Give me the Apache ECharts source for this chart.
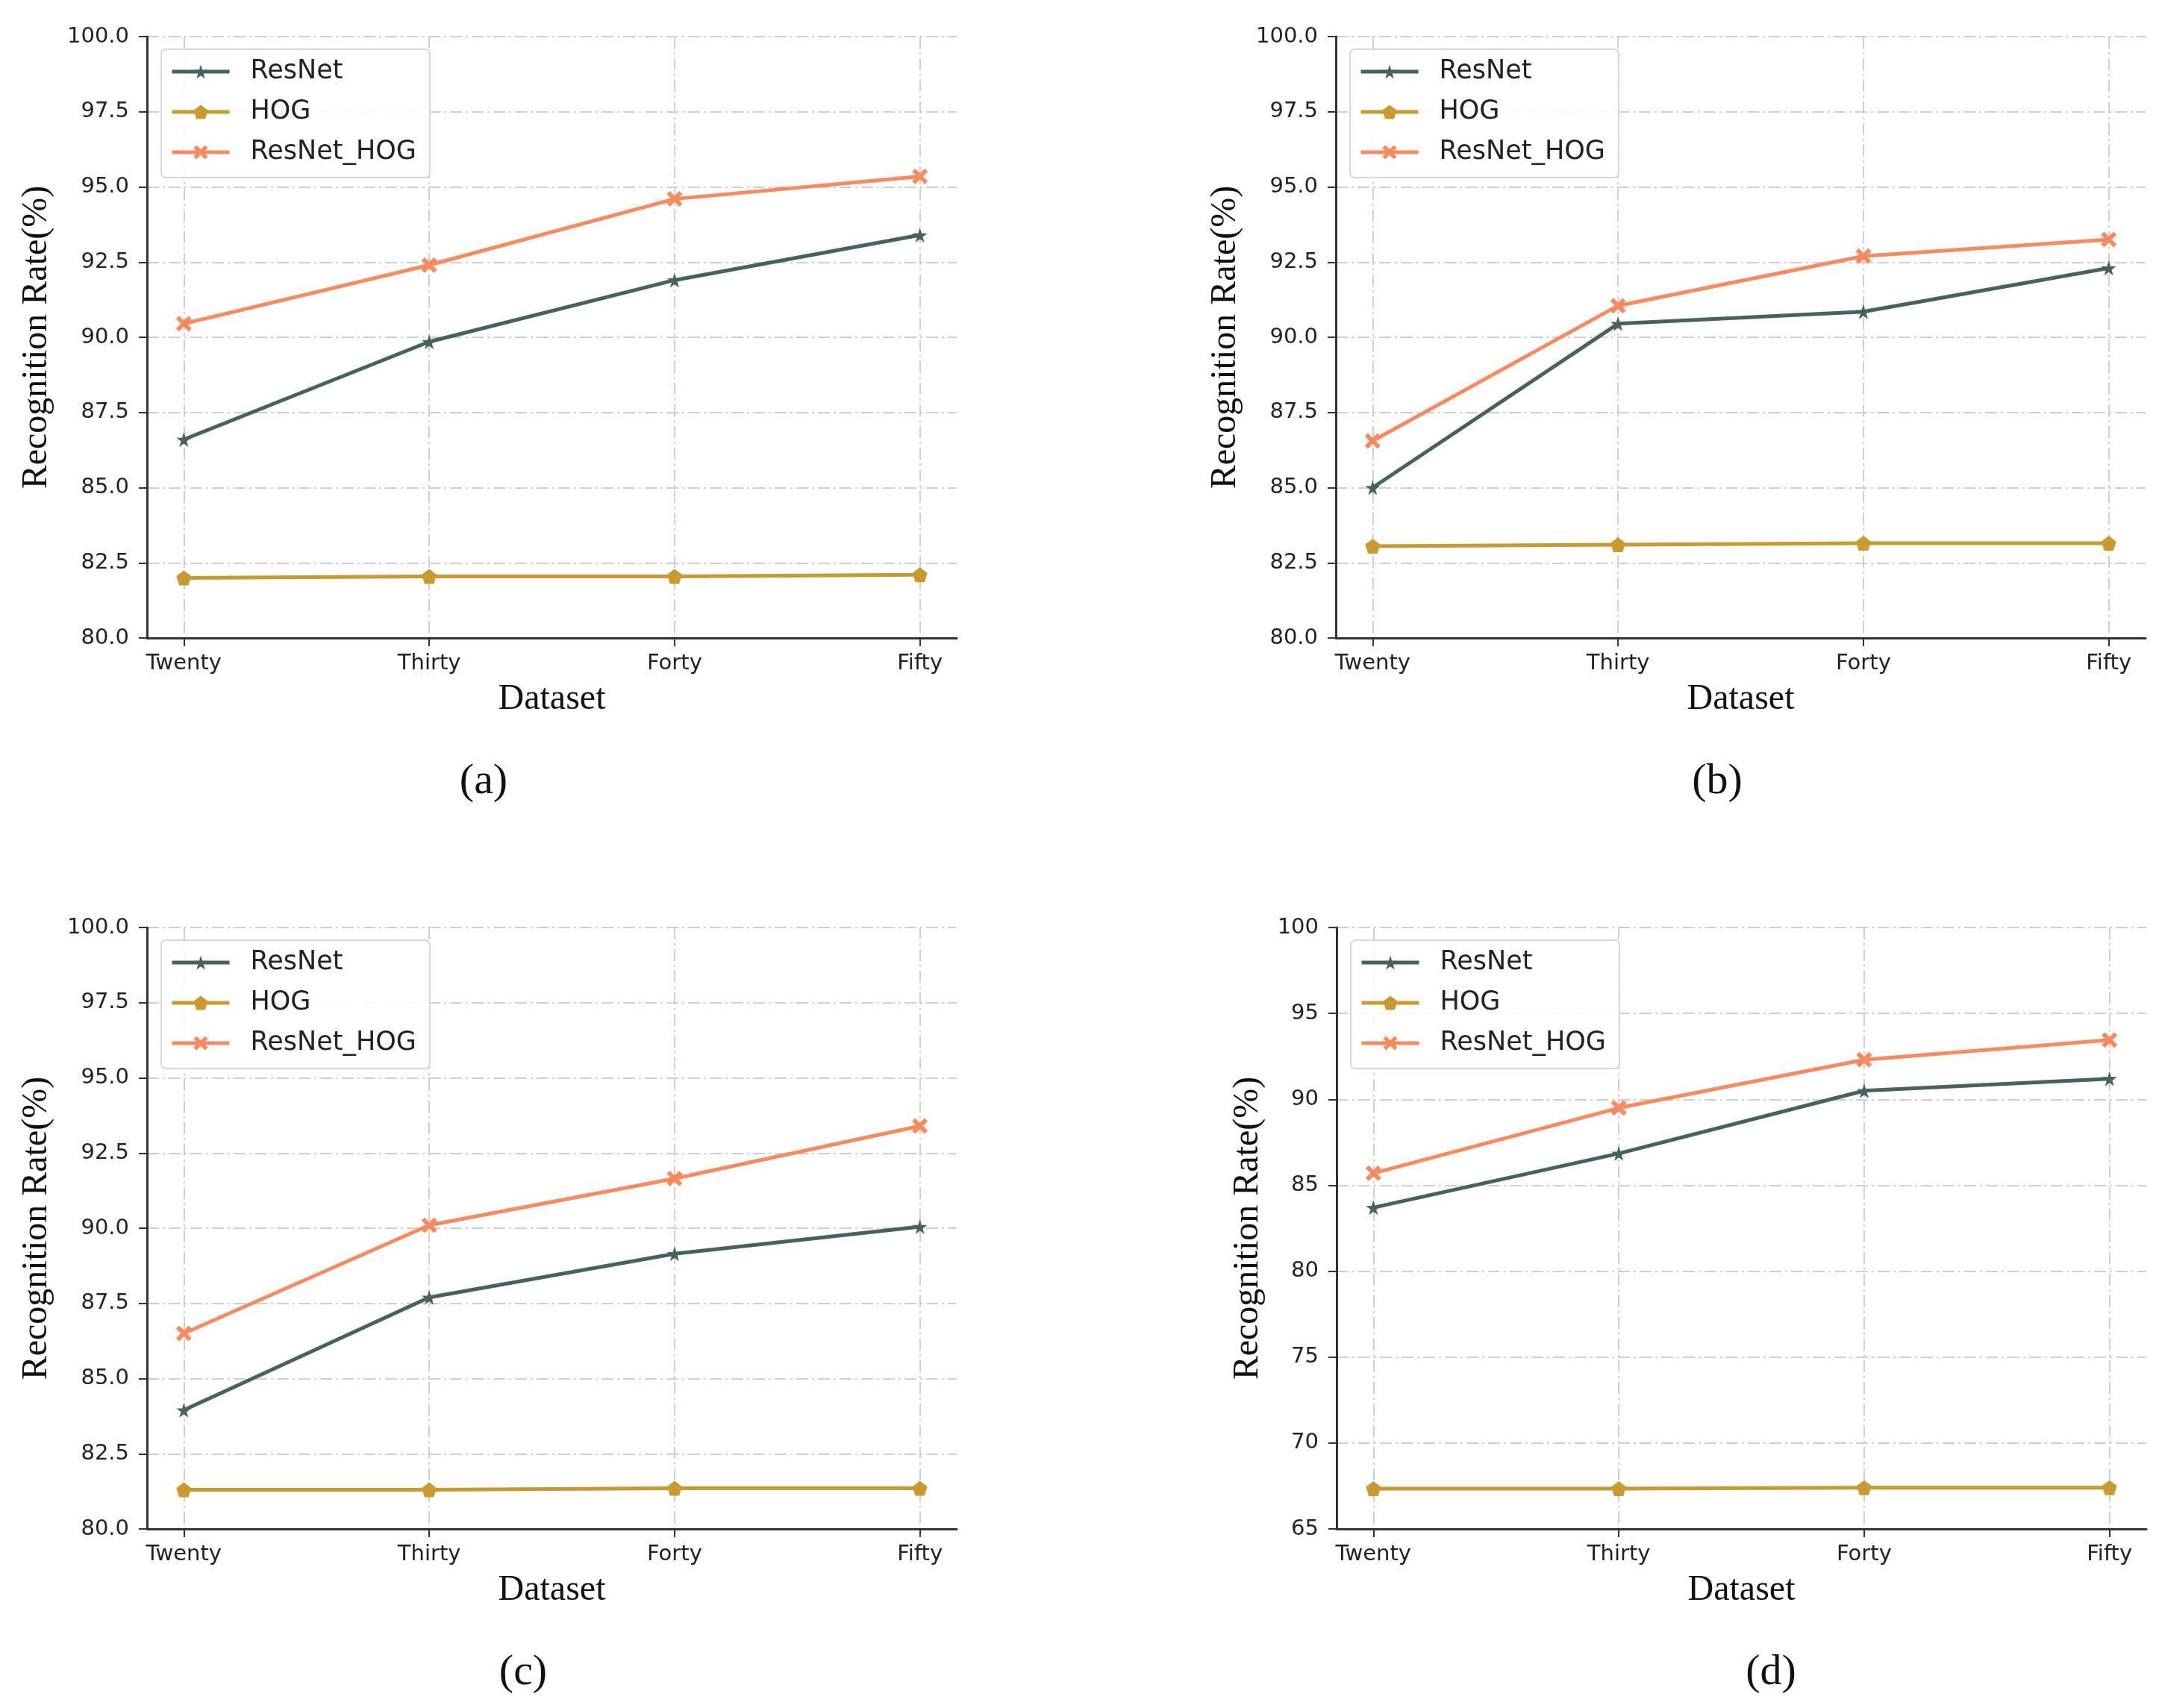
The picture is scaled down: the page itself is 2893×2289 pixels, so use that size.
<!DOCTYPE html>
<html>
<head>
<meta charset="utf-8">
<title>Recognition rate</title>
<script src="https://cdn.jsdelivr.net/npm/echarts@6/dist/echarts.min.js"></script>
<style>
    html, body { margin: 0; padding: 0; background: #fff; }
    #echarts { width: 2893px; height: 2289px; }
</style>
</head>
<body>
<div id="echarts"></div>
<script>
    var categories = ['Twenty', 'Thirty', 'Forty', 'Fifty']
    var seriesNames = ['ResNet', 'HOG', 'ResNet_HOG']

    // panel (a)
    var resnetA = [86.6, 89.85, 91.9, 93.4]
    var hogA = [82.0, 82.05, 82.05, 82.1]
    var resnetHogA = [90.45, 92.4, 94.6, 95.35]
    // panel (b)
    var resnetB = [85.0, 90.45, 90.85, 92.3]
    var hogB = [83.05, 83.1, 83.15, 83.15]
    var resnetHogB = [86.55, 91.05, 92.7, 93.25]
    // panel (c)
    var resnetC = [83.95, 87.7, 89.15, 90.05]
    var hogC = [81.3, 81.3, 81.35, 81.35]
    var resnetHogC = [86.5, 90.1, 91.65, 93.4]
    // panel (d)
    var resnetD = [83.7, 86.85, 90.5, 91.2]
    var hogD = [67.35, 67.35, 67.4, 67.4]
    var resnetHogD = [85.7, 89.5, 92.3, 93.45]

    var captions = ['(a)', '(b)', '(c)', '(d)']

    var chart = echarts.init(document.getElementById('echarts'))

    var colors = ['#44625e', '#c99a2e', '#f98a5f']
    var symbols = [
        'path://M50,0 L61,35 L98,35 L68,57 L79,91 L50,70 L21,91 L32,57 L2,35 L39,35 Z',
        'path://M50,0 L97.6,34.5 L79.4,90.5 L20.6,90.5 L2.4,34.5 Z',
        'path://M20,0 L50,30 L80,0 L100,20 L70,50 L100,80 L80,100 L50,70 L20,100 L0,80 L30,50 L0,20 Z'
    ]
    var symbolSizes = [20, 20, 21]

    var panels = [
        {data: [resnetA, hogA, resnetHogA], left: 197, top: 49, min: 80, step: 2.5, gap: 124, cap: [648, 1048]},
        {data: [resnetB, hogB, resnetHogB], left: 1790, top: 49, min: 80, step: 2.5, gap: 124, cap: [2301, 1048]},
        {data: [resnetC, hogC, resnetHogC], left: 197, top: 1243, min: 80, step: 2.5, gap: 124, cap: [701, 2242]},
        {data: [resnetD, hogD, resnetHogD], left: 1791, top: 1243, min: 65, step: 5, gap: 95, cap: [2373, 2242]}
    ]

    var sans = 'DejaVu Sans'
    var serif = 'Liberation Serif'
    var gridLine = function () {
        return {show: true, lineStyle: {color: '#cfcfcf', width: 2, type: [16, 5, 3, 5]}}
    }
    // category positions 1..4 on a value axis, 5% margin each side like matplotlib
    var catPos = [1, 2, 3, 4]

    var toPairs = function (values) {
        var res = []
        for (var i = 0; i < values.length; i++) {
            res.push([catPos[i], values[i]])
        }
        return res
    }

    var option = {
        backgroundColor: '#fff',
        animation: false,
        grid: [],
        xAxis: [],
        yAxis: [],
        legend: [],
        series: [],
        graphic: []
    }

    panels.forEach(function (p, k) {
        option.grid.push({left: p.left, top: p.top, width: 1085, height: 806})

        option.xAxis.push({
            type: 'value',
            gridIndex: k,
            min: 0.85,
            max: 4.15,
            name: 'Dataset',
            nameLocation: 'middle',
            nameGap: 58,
            nameTextStyle: {fontFamily: serif, fontSize: 48, color: '#111'},
            axisLine: {show: true, onZero: false, lineStyle: {color: '#333', width: 3}},
            axisTick: {show: true, length: 11, customValues: catPos, lineStyle: {color: '#333', width: 2}},
            axisLabel: {
                customValues: catPos,
                margin: 20,
                fontFamily: sans,
                fontSize: 29,
                color: '#222',
                formatter: function (v) { return categories[Math.round(v) - 1] }
            },
            splitLine: gridLine()
        })

        option.yAxis.push({
            type: 'value',
            gridIndex: k,
            min: p.min,
            max: 100,
            interval: p.step,
            name: 'Recognition Rate(%)',
            nameLocation: 'middle',
            nameGap: p.gap,
            nameTextStyle: {fontFamily: serif, fontSize: 48, color: '#111'},
            axisLine: {show: true, onZero: false, lineStyle: {color: '#333', width: 3}},
            axisTick: {show: true, length: 11, lineStyle: {color: '#333', width: 2}},
            axisLabel: {
                margin: 24,
                fontFamily: sans,
                fontSize: 29,
                color: '#222',
                formatter: function (v) { return p.step < 5 ? v.toFixed(1) : String(v) }
            },
            splitLine: gridLine()
        })

        option.legend.push({
            orient: 'vertical',
            left: p.left + 19,
            top: p.top + 17,
            data: seriesNames,
            itemWidth: 77,
            itemHeight: 24,
            itemGap: 18,
            padding: [12, 18, 16, 12],
            backgroundColor: 'rgba(255,255,255,0.85)',
            borderColor: '#d8d8d8',
            borderWidth: 2,
            borderRadius: 6,
            lineStyle: {width: 5},
            textStyle: {fontFamily: sans, fontSize: 35, color: '#222', lineHeight: 36, padding: [0, 0, 0, 23]}
        })

        for (var s = 0; s < 3; s++) {
            option.series.push({
                name: seriesNames[s],
                type: 'line',
                xAxisIndex: k,
                yAxisIndex: k,
                data: toPairs(p.data[s]),
                symbol: symbols[s],
                symbolSize: symbolSizes[s],
                color: colors[s],
                lineStyle: {width: 5, color: colors[s]},
                itemStyle: {color: colors[s]}
            })
        }

        option.graphic.push({
            type: 'text',
            x: p.cap[0],
            y: p.cap[1],
            style: {
                text: captions[k],
                fontFamily: serif,
                fontSize: 58,
                fill: '#111',
                textAlign: 'center',
                textVerticalAlign: 'middle'
            }
        })
    })

    chart.setOption(option)
</script>
</body>
</html>
